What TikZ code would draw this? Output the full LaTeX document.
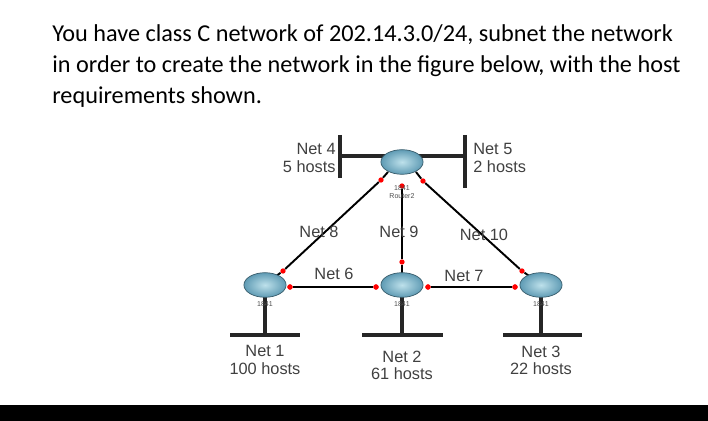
\documentclass[tikz,border=0pt]{standalone}
\usepackage{fontspec}
\setmainfont{Carlito}
\newfontfamily\arialf{Liberation Sans}
\usetikzlibrary{shapes.geometric}
\definecolor{rtcol}{RGB}{95,155,180}
\definecolor{rtend}{RGB}{190,225,235}
\tikzset{
  router/.style={ellipse, draw=rtcol!60!black, shading=radial, inner color=rtend,
    outer color=rtcol, minimum width=24pt, minimum height=14pt, inner sep=0pt},
  link/.style={line width=1.1pt},
  bus/.style={line width=2.2pt, gray!30!black},
  port/.style={circle, fill=red, inner sep=0pt, minimum size=3pt},
  lbl/.style={font=\arialf\fontsize{9.3}{9.8}\selectfont, text=black!75, inner sep=0pt},
  model/.style={font=\arialf\fontsize{4}{4.5}\selectfont, text=black!70, inner sep=0pt, align=center}
}
\begin{document}
\begin{tikzpicture}[x=0.02cm, y=-0.02cm]
\useasboundingbox (0,0) rectangle (708,421);
\fill[black] (0,405) rectangle (708,421);
\node[anchor=west, font=\fontsize{13.8}{17.6}\selectfont, align=left, inner sep=0pt] (title) at (52,66)
  {You have class C network of 202.14.3.0/24, subnet the network\\
   in order to create the network in the figure below, with the host\\
   requirements shown.};

% top buses
\coordinate (b4) at (340,156);
\coordinate (b5) at (465,156);
\draw[bus] (b4) -- (b5);
\draw[bus] (340,135) -- (340,178);
\draw[bus] (465,135) -- (465,188);
\node[lbl, anchor=east, align=right] (n4) at (336,158) {Net 4\\5 hosts};
\node[lbl, anchor=west, align=left] (n5) at (473,158) {Net 5\\2 hosts};

% bottom buses
\foreach \r/\x/\a/\b in {r1/265/230/300, r0/402/362/443, r3/541/503/582} {
  \draw[bus] (\x,285) -- (\x,335);
  \draw[bus] (\a,335) -- (\b,335);
}
\node[lbl, align=center] (n1) at (265,360) {Net 1\\100 hosts};
\node[lbl, align=center] (n2) at (402,365) {Net 2\\61 hosts};
\node[lbl, align=center] (n3) at (541,360) {Net 3\\22 hosts};

% links
\node[port] (p8a) at (381,180) {};
\node[port] (p8b) at (283,271) {};
\node[port] (p9a) at (402,186) {};
\node[port] (p9b) at (402,262) {};
\node[port] (p10a) at (423,181) {};
\node[port] (p10b) at (522,271) {};
\node[port] (p6a) at (290,287) {};
\node[port] (p6b) at (376,287) {};
\node[port] (p7a) at (428,287) {};
\node[port] (p7b) at (515,287) {};
\draw[link] (388,172) -- (p8a) -- (p8b) -- (268,282);
\draw[link] (p9a) -- (p9b) -- (402,275);
\draw[link] (416,172) -- (p10a) -- (p10b) -- (538,282);
\draw[link] (p6a) -- (p6b);
\draw[link] (p7a) -- (p7b);

% routers
\node[router] (r2) at (402,162) {};
\node[router] (r1) at (265,285) {};
\node[router] (r0) at (402,285) {};
\node[router] (r3) at (541,285) {};
\node[model] (m2) at (402,192) {1841\\Router2};
\node[model] (m1) at (265,304) {1841};
\node[model] (m0) at (402,304) {1841};
\node[model] (m3) at (541,304) {1841};
\node[port] at (p6a) {};
\node[port] at (p6b) {};
\node[port] at (p7a) {};
\node[port] at (p7b) {};

\node[lbl] (n8) at (319,232) {Net 8};
\node[lbl] (n9) at (399,232) {Net 9};
\node[lbl] (n10) at (484,235) {Net 10};
\node[lbl] (n6) at (334,274) {Net 6};
\node[lbl] (n7) at (464,276) {Net 7};
\end{tikzpicture}
\end{document}
